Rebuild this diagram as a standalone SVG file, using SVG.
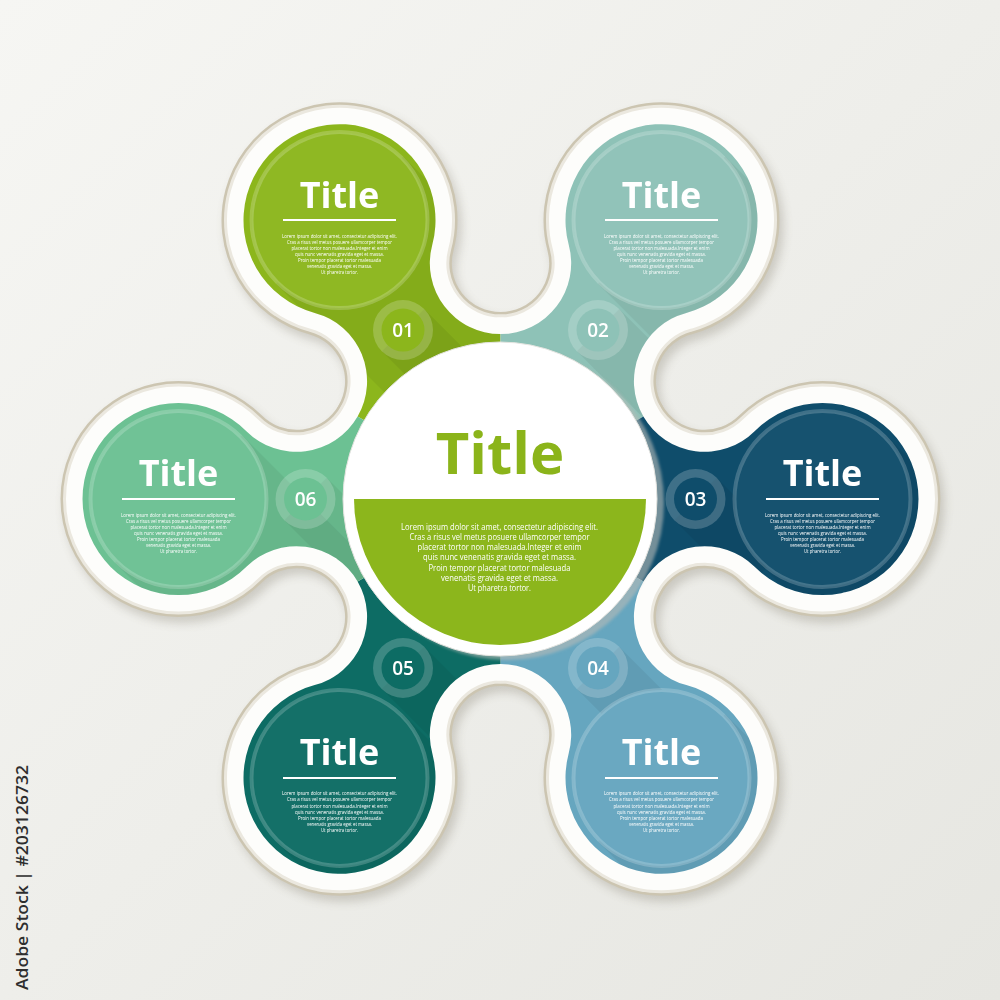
<svg xmlns="http://www.w3.org/2000/svg" xmlns:xlink="http://www.w3.org/1999/xlink" width="1000" height="1000" viewBox="0 0 1000 1000">
<defs>
<style>
.rs{fill:#7d7766;stroke:#7d7766;stroke-width:44;stroke-linejoin:round}
.ra{fill:#ccc5b1;stroke:#ccc5b1;stroke-width:44;stroke-linejoin:round}
.rb{fill:#ebe8df;stroke:#ebe8df;stroke-width:39;stroke-linejoin:round}
.rc{fill:#fdfdfb;stroke:#fdfdfb;stroke-width:33;stroke-linejoin:round}
.ls{fill:#000;opacity:0.055}
.ring{fill:#fff;fill-opacity:0.03;stroke:#fff;stroke-opacity:0.2;stroke-width:4}
.nring{fill:#fff;fill-opacity:0.2}
.num{font-family:"Open Sans","DejaVu Sans",sans-serif;font-weight:600;font-size:19px;fill:#fff;text-anchor:middle}
.tt{font-family:"Open Sans","DejaVu Sans",sans-serif;font-weight:700;font-size:36px;fill:#fff;text-anchor:middle}
.ul{stroke:#fff;stroke-width:2}
.bt{font-family:"Open Sans","DejaVu Sans",sans-serif;font-size:5.3px;fill:#fff;text-anchor:middle}
.ct{font-family:"Open Sans","DejaVu Sans",sans-serif;font-weight:700;font-size:58px;fill:#8bb41a;text-anchor:middle}
.cb{font-family:"Open Sans","DejaVu Sans",sans-serif;font-size:8.6px;fill:#fff;text-anchor:middle}
</style>
<linearGradient id="bg" x1="0" y1="0" x2="1" y2="1">
<stop offset="0" stop-color="#f6f6f3"/><stop offset="1" stop-color="#e6e6e1"/>
</linearGradient>
<filter id="blur" x="-10%" y="-10%" width="120%" height="120%"><feGaussianBlur stdDeviation="5"/></filter>
<filter id="blur2" x="-10%" y="-10%" width="120%" height="120%"><feGaussianBlur stdDeviation="1.5"/></filter>
<path id="sec" d="M0,0 L-82.5,-142.89 A70.69,70.69 0 0 0 -67.87,-254.1 A96,96 0 1 1 67.87,-254.1 A70.69,70.69 0 0 0 82.5,-142.89 Z"/>
<path id="ls90" d="M63.64,-63.64 L-63.64,63.64 L156.36,283.64 L283.64,156.36 Z"/>
<path id="ls30" d="M21.21,-21.21 L-21.21,21.21 L48.79,91.21 L91.21,48.79 Z"/>
<g id="all">
<use xlink:href="#sec" transform="translate(500.5,499) rotate(-30)"/>
<use xlink:href="#sec" transform="translate(500.5,499) rotate(30)"/>
<use xlink:href="#sec" transform="translate(500.5,499) rotate(90)"/>
<use xlink:href="#sec" transform="translate(500.5,499) rotate(150)"/>
<use xlink:href="#sec" transform="translate(500.5,499) rotate(210)"/>
<use xlink:href="#sec" transform="translate(500.5,499) rotate(270)"/>
</g>
<clipPath id="c1"><use xlink:href="#sec" transform="translate(500.5,499) rotate(-30)"/></clipPath>
<clipPath id="c2"><use xlink:href="#sec" transform="translate(500.5,499) rotate(30)"/></clipPath>
<clipPath id="c3"><use xlink:href="#sec" transform="translate(500.5,499) rotate(90)"/></clipPath>
<clipPath id="c4"><use xlink:href="#sec" transform="translate(500.5,499) rotate(150)"/></clipPath>
<clipPath id="c5"><use xlink:href="#sec" transform="translate(500.5,499) rotate(210)"/></clipPath>
<clipPath id="c6"><use xlink:href="#sec" transform="translate(500.5,499) rotate(270)"/></clipPath>
</defs>

<rect width="1000" height="1000" fill="url(#bg)"/>

<g id="rim">
<use xlink:href="#all" class="rs" filter="url(#blur)" opacity="0.3" transform="translate(4,6)"/>
<use xlink:href="#all" class="ra"/>
<use xlink:href="#all" class="rb"/>
<use xlink:href="#all" class="rc"/>
</g>

<g id="connectors"></g>

<g id="node-01">
<use xlink:href="#sec" transform="translate(500.5,499) rotate(-30)" fill="#8cb61c"/>
<g clip-path="url(#c1)"><use xlink:href="#ls90" x="339.5" y="220.1" class="ls"/><use xlink:href="#ls30" x="403" y="330.1" class="ls"/></g>
<circle cx="339.5" cy="220.1" r="88" fill="#8cb61c"/>
<circle cx="339.5" cy="220.1" r="88" class="ring"/>
<circle cx="403" cy="330.1" r="30" class="nring"/>
<circle cx="403" cy="330.1" r="21.5" fill="#8cb61c"/>
<text x="403" y="337" class="num">01</text>
<text x="339.5" y="207.5" class="tt">Title</text>
<line x1="283" y1="220.1" x2="396" y2="220.1" class="ul"/>
<text class="bt" x="339.5" y="237.6" textLength="115" lengthAdjust="spacingAndGlyphs">Lorem ipsum dolor sit amet, consectetur adipiscing elit.</text>
<text class="bt" x="339.5" y="243.6" textLength="105" lengthAdjust="spacingAndGlyphs">Cras a risus vel metus posuere ullamcorper tempor</text>
<text class="bt" x="339.5" y="249.7" textLength="96" lengthAdjust="spacingAndGlyphs">placerat tortor non malesuada.Integer et enim</text>
<text class="bt" x="339.5" y="255.7" textLength="89" lengthAdjust="spacingAndGlyphs">quis nunc venenatis gravida eget et massa.</text>
<text class="bt" x="339.5" y="261.8" textLength="83" lengthAdjust="spacingAndGlyphs">Proin tempor placerat tortor  malesuada</text>
<text class="bt" x="339.5" y="267.8" textLength="65" lengthAdjust="spacingAndGlyphs">venenatis gravida eget et massa.</text>
<text class="bt" x="339.5" y="273.9" textLength="37" lengthAdjust="spacingAndGlyphs">Ut pharetra tortor.</text>
</g>

<g id="node-02">
<use xlink:href="#sec" transform="translate(500.5,499) rotate(30)" fill="#8ec2b7"/>
<g clip-path="url(#c2)"><use xlink:href="#ls90" x="661.5" y="220.1" class="ls"/><use xlink:href="#ls30" x="598" y="330.1" class="ls"/></g>
<circle cx="661.5" cy="220.1" r="88" fill="#8ec2b7"/>
<circle cx="661.5" cy="220.1" r="88" class="ring"/>
<circle cx="598" cy="330.1" r="30" class="nring"/>
<circle cx="598" cy="330.1" r="21.5" fill="#8ec2b7"/>
<text x="598" y="337" class="num">02</text>
<text x="661.5" y="207.5" class="tt">Title</text>
<line x1="605" y1="220.1" x2="718" y2="220.1" class="ul"/>
<text class="bt" x="661.5" y="237.6" textLength="115" lengthAdjust="spacingAndGlyphs">Lorem ipsum dolor sit amet, consectetur adipiscing elit.</text>
<text class="bt" x="661.5" y="243.6" textLength="105" lengthAdjust="spacingAndGlyphs">Cras a risus vel metus posuere ullamcorper tempor</text>
<text class="bt" x="661.5" y="249.7" textLength="96" lengthAdjust="spacingAndGlyphs">placerat tortor non malesuada.Integer et enim</text>
<text class="bt" x="661.5" y="255.7" textLength="89" lengthAdjust="spacingAndGlyphs">quis nunc venenatis gravida eget et massa.</text>
<text class="bt" x="661.5" y="261.8" textLength="83" lengthAdjust="spacingAndGlyphs">Proin tempor placerat tortor  malesuada</text>
<text class="bt" x="661.5" y="267.8" textLength="65" lengthAdjust="spacingAndGlyphs">venenatis gravida eget et massa.</text>
<text class="bt" x="661.5" y="273.9" textLength="37" lengthAdjust="spacingAndGlyphs">Ut pharetra tortor.</text>
</g>

<g id="node-03">
<use xlink:href="#sec" transform="translate(500.5,499) rotate(90)" fill="#0f4d6b"/>
<g clip-path="url(#c3)"><use xlink:href="#ls90" x="822.5" y="499" class="ls"/><use xlink:href="#ls30" x="695.5" y="499" class="ls"/></g>
<circle cx="822.5" cy="499" r="88" fill="#0f4d6b"/>
<circle cx="822.5" cy="499" r="88" class="ring"/>
<circle cx="695.5" cy="499" r="30" class="nring"/>
<circle cx="695.5" cy="499" r="21.5" fill="#0f4d6b"/>
<text x="695.5" y="505.9" class="num">03</text>
<text x="822.5" y="486.4" class="tt">Title</text>
<line x1="766" y1="499" x2="879" y2="499" class="ul"/>
<text class="bt" x="822.5" y="516.5" textLength="115" lengthAdjust="spacingAndGlyphs">Lorem ipsum dolor sit amet, consectetur adipiscing elit.</text>
<text class="bt" x="822.5" y="522.5" textLength="105" lengthAdjust="spacingAndGlyphs">Cras a risus vel metus posuere ullamcorper tempor</text>
<text class="bt" x="822.5" y="528.6" textLength="96" lengthAdjust="spacingAndGlyphs">placerat tortor non malesuada.Integer et enim</text>
<text class="bt" x="822.5" y="534.6" textLength="89" lengthAdjust="spacingAndGlyphs">quis nunc venenatis gravida eget et massa.</text>
<text class="bt" x="822.5" y="540.7" textLength="83" lengthAdjust="spacingAndGlyphs">Proin tempor placerat tortor  malesuada</text>
<text class="bt" x="822.5" y="546.7" textLength="65" lengthAdjust="spacingAndGlyphs">venenatis gravida eget et massa.</text>
<text class="bt" x="822.5" y="552.8" textLength="37" lengthAdjust="spacingAndGlyphs">Ut pharetra tortor.</text>
</g>

<g id="node-04">
<use xlink:href="#sec" transform="translate(500.5,499) rotate(150)" fill="#66a6bf"/>
<g clip-path="url(#c4)"><use xlink:href="#ls90" x="661.5" y="777.9" class="ls"/><use xlink:href="#ls30" x="598" y="667.9" class="ls"/></g>
<circle cx="661.5" cy="777.9" r="88" fill="#66a6bf"/>
<circle cx="661.5" cy="777.9" r="88" class="ring"/>
<circle cx="598" cy="667.9" r="30" class="nring"/>
<circle cx="598" cy="667.9" r="21.5" fill="#66a6bf"/>
<text x="598" y="674.8" class="num">04</text>
<text x="661.5" y="765.3" class="tt">Title</text>
<line x1="605" y1="777.9" x2="718" y2="777.9" class="ul"/>
<text class="bt" x="661.5" y="795.4" textLength="115" lengthAdjust="spacingAndGlyphs">Lorem ipsum dolor sit amet, consectetur adipiscing elit.</text>
<text class="bt" x="661.5" y="801.4" textLength="105" lengthAdjust="spacingAndGlyphs">Cras a risus vel metus posuere ullamcorper tempor</text>
<text class="bt" x="661.5" y="807.5" textLength="96" lengthAdjust="spacingAndGlyphs">placerat tortor non malesuada.Integer et enim</text>
<text class="bt" x="661.5" y="813.5" textLength="89" lengthAdjust="spacingAndGlyphs">quis nunc venenatis gravida eget et massa.</text>
<text class="bt" x="661.5" y="819.6" textLength="83" lengthAdjust="spacingAndGlyphs">Proin tempor placerat tortor  malesuada</text>
<text class="bt" x="661.5" y="825.6" textLength="65" lengthAdjust="spacingAndGlyphs">venenatis gravida eget et massa.</text>
<text class="bt" x="661.5" y="831.7" textLength="37" lengthAdjust="spacingAndGlyphs">Ut pharetra tortor.</text>
</g>

<g id="node-05">
<use xlink:href="#sec" transform="translate(500.5,499) rotate(210)" fill="#0d6c64"/>
<g clip-path="url(#c5)"><use xlink:href="#ls90" x="339.5" y="777.9" class="ls"/><use xlink:href="#ls30" x="403" y="667.9" class="ls"/></g>
<circle cx="339.5" cy="777.9" r="88" fill="#0d6c64"/>
<circle cx="339.5" cy="777.9" r="88" class="ring"/>
<circle cx="403" cy="667.9" r="30" class="nring"/>
<circle cx="403" cy="667.9" r="21.5" fill="#0d6c64"/>
<text x="403" y="674.8" class="num">05</text>
<text x="339.5" y="765.3" class="tt">Title</text>
<line x1="283" y1="777.9" x2="396" y2="777.9" class="ul"/>
<text class="bt" x="339.5" y="795.4" textLength="115" lengthAdjust="spacingAndGlyphs">Lorem ipsum dolor sit amet, consectetur adipiscing elit.</text>
<text class="bt" x="339.5" y="801.4" textLength="105" lengthAdjust="spacingAndGlyphs">Cras a risus vel metus posuere ullamcorper tempor</text>
<text class="bt" x="339.5" y="807.5" textLength="96" lengthAdjust="spacingAndGlyphs">placerat tortor non malesuada.Integer et enim</text>
<text class="bt" x="339.5" y="813.5" textLength="89" lengthAdjust="spacingAndGlyphs">quis nunc venenatis gravida eget et massa.</text>
<text class="bt" x="339.5" y="819.6" textLength="83" lengthAdjust="spacingAndGlyphs">Proin tempor placerat tortor  malesuada</text>
<text class="bt" x="339.5" y="825.6" textLength="65" lengthAdjust="spacingAndGlyphs">venenatis gravida eget et massa.</text>
<text class="bt" x="339.5" y="831.7" textLength="37" lengthAdjust="spacingAndGlyphs">Ut pharetra tortor.</text>
</g>

<g id="node-06">
<use xlink:href="#sec" transform="translate(500.5,499) rotate(270)" fill="#6cc193"/>
<g clip-path="url(#c6)"><use xlink:href="#ls90" x="178.5" y="499" class="ls"/><use xlink:href="#ls30" x="305.5" y="499" class="ls"/></g>
<circle cx="178.5" cy="499" r="88" fill="#6cc193"/>
<circle cx="178.5" cy="499" r="88" class="ring"/>
<circle cx="305.5" cy="499" r="30" class="nring"/>
<circle cx="305.5" cy="499" r="21.5" fill="#6cc193"/>
<text x="305.5" y="505.9" class="num">06</text>
<text x="178.5" y="486.4" class="tt">Title</text>
<line x1="122" y1="499" x2="235" y2="499" class="ul"/>
<text class="bt" x="178.5" y="516.5" textLength="115" lengthAdjust="spacingAndGlyphs">Lorem ipsum dolor sit amet, consectetur adipiscing elit.</text>
<text class="bt" x="178.5" y="522.5" textLength="105" lengthAdjust="spacingAndGlyphs">Cras a risus vel metus posuere ullamcorper tempor</text>
<text class="bt" x="178.5" y="528.6" textLength="96" lengthAdjust="spacingAndGlyphs">placerat tortor non malesuada.Integer et enim</text>
<text class="bt" x="178.5" y="534.6" textLength="89" lengthAdjust="spacingAndGlyphs">quis nunc venenatis gravida eget et massa.</text>
<text class="bt" x="178.5" y="540.7" textLength="83" lengthAdjust="spacingAndGlyphs">Proin tempor placerat tortor  malesuada</text>
<text class="bt" x="178.5" y="546.7" textLength="65" lengthAdjust="spacingAndGlyphs">venenatis gravida eget et massa.</text>
<text class="bt" x="178.5" y="552.8" textLength="37" lengthAdjust="spacingAndGlyphs">Ut pharetra tortor.</text>
</g>

<g id="node-center">
<circle cx="507" cy="503" r="157" fill="#b7bbb8" opacity="0.6" filter="url(#blur2)"/>
<circle cx="500" cy="499" r="157" fill="#ffffff" stroke="#e4e4e0" stroke-width="1"/>
<path d="M354,499 A146,146 0 0 0 646,499 Z" fill="#8cb61c"/>
<text x="500" y="474" class="ct">Title</text>
<text class="cb" x="499.5" y="529.5" textLength="197" lengthAdjust="spacingAndGlyphs">Lorem ipsum dolor sit amet, consectetur adipiscing elit.</text>
<text class="cb" x="499.5" y="539.8" textLength="180" lengthAdjust="spacingAndGlyphs">Cras a risus vel metus posuere ullamcorper tempor</text>
<text class="cb" x="499.5" y="550.1" textLength="164" lengthAdjust="spacingAndGlyphs">placerat tortor non malesuada.Integer et enim</text>
<text class="cb" x="499.5" y="560.4" textLength="153" lengthAdjust="spacingAndGlyphs">quis nunc venenatis gravida eget et massa.</text>
<text class="cb" x="499.5" y="570.7" textLength="142" lengthAdjust="spacingAndGlyphs">Proin tempor placerat tortor  malesuada</text>
<text class="cb" x="499.5" y="581" textLength="117" lengthAdjust="spacingAndGlyphs">venenatis gravida eget et massa.</text>
<text class="cb" x="499.5" y="591.3" textLength="63" lengthAdjust="spacingAndGlyphs">Ut pharetra tortor.</text>
</g>

<g id="side-label">
<text transform="translate(28,990) rotate(-90)" font-family="'Open Sans','Liberation Sans',sans-serif" font-weight="600" font-size="17" fill="#2e2e2e" textLength="225" lengthAdjust="spacingAndGlyphs">Adobe Stock | #203126732</text>
</g>
</svg>
